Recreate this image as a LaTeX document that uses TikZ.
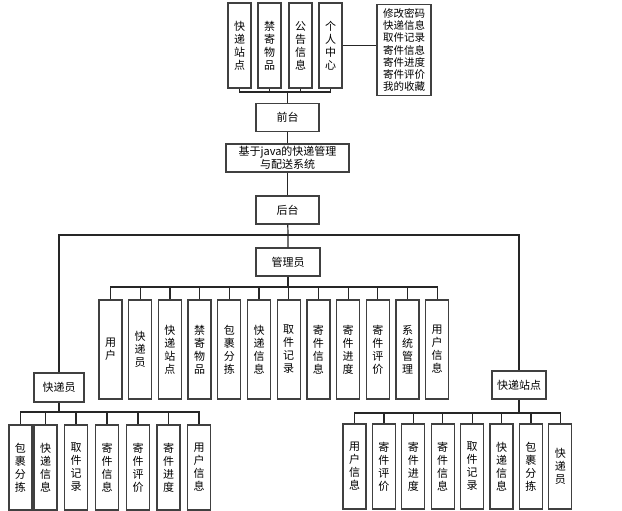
\documentclass[tikz,border=0pt]{standalone}
\usepackage{fontspec}
\setmainfont{Noto Sans CJK SC}
\usepackage{tikz}
\usetikzlibrary{calc, positioning}

\begin{document}
\begin{tikzpicture}[x=1pt, y=-1pt,
        box/.style={draw=black!75, line width=1.3pt, inner sep=0pt, align=center,
            font=\fontsize{11}{13}\selectfont},
        vbox/.style={box, minimum width=23pt, minimum height=85pt},
        hbox/.style={box, minimum width=63pt, minimum height=28pt},
        link/.style={draw=black!85, line width=1.2pt}]
        \useasboundingbox (0,0) rectangle (622,511);
        % top row
        \node[vbox] (zd) at (239.5,45.5) {快\\递\\站\\点};
        \node[vbox] (jj) at (269.5,45.5) {禁\\寄\\物\\品};
        \node[vbox] (gg) at (300.5,45.5) {公\\告\\信\\息};
        \node[vbox] (gr) at (330.5,45.5) {个\\人\\中\\心};
        \node[box, minimum width=54pt, minimum height=91pt, align=left,
            font=\fontsize{10.5}{12.3}\selectfont] (my) at (404,50)
            {修改密码\\快递信息\\取件记录\\寄件信息\\寄件进度\\寄件评价\\我的收藏};
        \node[hbox] (front) at (287.5,117.5) {前台};
        \node[box, minimum width=123pt, minimum height=28pt,
            font=\fontsize{11}{12.5}\selectfont] (title) at (287.5,158)
            {基于java的快递管理\\与配送系统};
        \node[hbox] (back) at (287.5,210) {后台};
        \node[hbox, minimum width=64pt] (admin) at (288,262) {管理员};
        \node[hbox, minimum width=50pt, minimum height=29pt] (courier) at (59,387.5) {快递员};
        \node[hbox, minimum width=54pt] (station) at (519,385) {快递站点};
        \coordinate (frontbus) at (287.5,92);
        \coordinate (backbus) at (288,235);
        \coordinate (adminbus) at (288,287);
        \coordinate (courierbus) at (59,412);
        \coordinate (stationbus) at (519,413);
        % upper part
        \draw[link] (gr.east) -- (gr.east -| my.west);
        \foreach \t in {zd, jj, gg, gr}
            \draw[link] (\t.south) |- (frontbus);
        \draw[link] (frontbus) -- (front) -- (title) -- (back);
        \draw[link] (back) -- (backbus) -- (admin);
        \draw[link] (courier) |- (backbus);
        \draw[link] (station) |- (backbus);
        % admin
        \foreach \lbl [count=\i from 0] in {{用\\户}, {快\\递\\员}, {快\\递\\站\\点},
            {禁\\寄\\物\\品}, {包\\裹\\分\\拣}, {快\\递\\信\\息}, {取\\件\\记\\录},
            {寄\\件\\信\\息}, {寄\\件\\进\\度}, {寄\\件\\评\\价}, {系\\统\\管\\理},
            {用\\户\\信\\息}} {
            \node[vbox, minimum height=99pt] (a\i) at (110.5+29.7*\i,349.5) {\lbl};
            \draw[link] (a\i.north) |- (adminbus);
        }
        \draw[link] (admin) -- (adminbus);
        % courier
        \foreach \xx/\lbl [count=\i from 0] in {20.5/{包\\裹\\分\\拣}, 45.5/{快\\递\\信\\息},
            76/{取\\件\\记\\录}, 107/{寄\\件\\信\\息}, 138/{寄\\件\\评\\价},
            168.5/{寄\\件\\进\\度}, 199/{用\\户\\信\\息}} {
            \node[vbox] (c\i) at (\xx,467.5) {\lbl};
            \draw[link] (c\i.north) |- (courierbus);
        }
        \draw[link] (courier) -- (courierbus);
        % station
        \foreach \lbl [count=\i from 0] in {{用\\户\\信\\息}, {寄\\件\\评\\价},
            {寄\\件\\进\\度}, {寄\\件\\信\\息}, {取\\件\\记\\录}, {快\\递\\信\\息},
            {包\\裹\\分\\拣}, {快\\递\\员}} {
            \node[vbox] (s\i) at (354.5+29.4*\i,466.5) {\lbl};
            \draw[link] (s\i.north) |- (stationbus);
        }
        \draw[link] (station) -- (stationbus);
    \end{tikzpicture}
\end{document}
